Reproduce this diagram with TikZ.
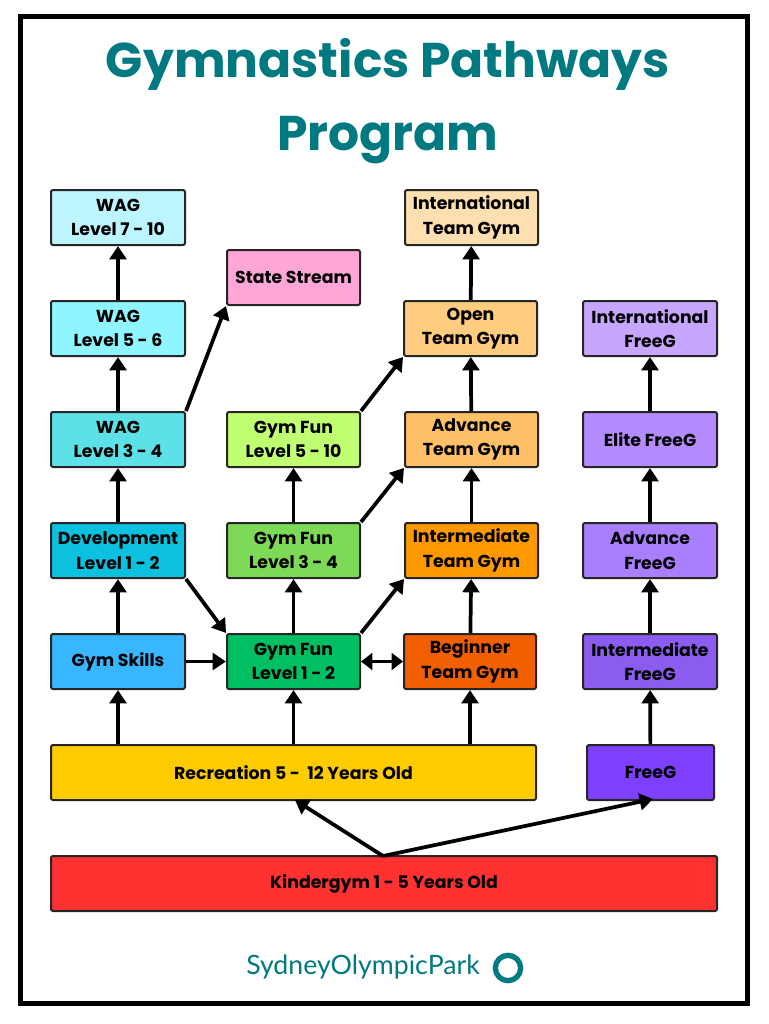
\documentclass[tikz,border=0pt]{standalone}
\usepackage{fontspec}
\setmainfont{Poppins}
\newfontfamily\logofont{Lato}
\usetikzlibrary{arrows.meta}

\definecolor{brand}{HTML}{007A80}
\definecolor{wagA}{HTML}{BDF5FF}
\definecolor{wagB}{HTML}{8FF6FF}
\definecolor{wagC}{HTML}{5CE1E6}
\definecolor{wagD}{HTML}{0CC0DF}
\definecolor{wagE}{HTML}{38B6FF}
\definecolor{funS}{HTML}{FFA6D9}
\definecolor{funA}{HTML}{C1FF72}
\definecolor{funB}{HTML}{7ED957}
\definecolor{funC}{HTML}{00BF63}
\definecolor{teamA}{HTML}{FFDFB0}
\definecolor{teamB}{HTML}{FFCC80}
\definecolor{teamC}{HTML}{FFC067}
\definecolor{teamD}{HTML}{FF9900}
\definecolor{teamE}{HTML}{F25F00}
\definecolor{freeA}{HTML}{C7A6FF}
\definecolor{freeB}{HTML}{B58CFF}
\definecolor{freeC}{HTML}{A97FFF}
\definecolor{freeD}{HTML}{8C5CF0}
\definecolor{freeE}{HTML}{7F3FFF}
\definecolor{recfill}{HTML}{FFCC00}
\definecolor{kindfill}{HTML}{FF3131}

\tikzset{
    pathbox/.style 2 args={
        draw=black!85, line width=1.5pt, rounded corners=1.5pt, align=center,
        font=\fontsize{13}{18.5}\selectfont\bfseries, text=black, inner sep=0pt,
        minimum width=#1*0.75pt, minimum height=55*0.75pt, fill=#2
    },
    link/.style={line width=2.8pt, -{Triangle[length=10pt, width=12.5pt]}},
    twolink/.style={line width=2.8pt, {Triangle[length=8.5pt, width=12.5pt]}-{Triangle[length=8.5pt, width=12.5pt]}}
}

\begin{document}
\begin{tikzpicture}[x=0.75pt, y=-0.75pt]
    \useasboundingbox (0,0) rectangle (768,1024);
    \fill[white] (0,0) rectangle (768,1024);
    \node (frame) [draw=black, line width=3.75pt, minimum width=727*0.75pt, minimum height=986*0.75pt, inner sep=0pt] at (383.5,510) {};

    \node (title) [text=brand, align=center, font=\fontsize{36.6}{55}\selectfont\bfseries] at (388,101) {Gymnastics Pathways\\Program};

    % WAG stream
    \node (wagseven) [pathbox={134}{wagA}] at (118,217.5) {WAG\\Level 7 - 10};
    \node (wagfive)  [pathbox={134}{wagB}] at (118,328.5) {WAG\\Level 5 - 6};
    \node (wagthree) [pathbox={134}{wagC}] at (118,439.5) {WAG\\Level 3 - 4};
    \node (dev)      [pathbox={134}{wagD}] at (118,550.5) {Development\\Level 1 - 2};
    \node (skills)   [pathbox={134}{wagE}] at (118,661.5) {Gym Skills};

    % gym fun
    \node (state)    [pathbox={133}{funS}] at (293.5,277.5) {State Stream};
    \node (funfive)  [pathbox={133}{funA}] at (293.5,439.5) {Gym Fun\\Level 5 - 10};
    \node (funthree) [pathbox={133}{funB}] at (293.5,550.5) {Gym Fun\\Level 3 - 4};
    \node (funone)   [pathbox={133}{funC}] at (293.5,661.5) {Gym Fun\\Level 1 - 2};

    % team gym
    \node (tgintl)   [pathbox={133}{teamA}] at (471.5,217.5) {International\\Team Gym};
    \node (tgopen)   [pathbox={133}{teamB}] at (470.5,328.5) {Open\\Team Gym};
    \node (tgadv)    [pathbox={133}{teamC}] at (471.5,439.5) {Advance\\Team Gym};
    \node (tginter)  [pathbox={133}{teamD}] at (471.5,550.5) {Intermediate\\Team Gym};
    \node (tgbegin)  [pathbox={132}{teamE}] at (470,661.5) {Beginner\\Team Gym};

    % freeg
    \node (fgintl)   [pathbox={134}{freeA}] at (650,328.5) {International\\FreeG};
    \node (fgelite)  [pathbox={134}{freeB}] at (650,439.5) {Elite FreeG};
    \node (fgadv)    [pathbox={134}{freeC}] at (650,550.5) {Advance\\FreeG};
    \node (fginter)  [pathbox={134}{freeD}] at (650,661.5) {Intermediate\\FreeG};
    \node (fgbase)   [pathbox={127}{freeE}] at (650.5,772.5) {FreeG};

    \node (rec)      [pathbox={485}{recfill}] at (293.5,772.5) {Recreation 5 -\ \ 12 Years Old};
    \node (kinder)   [pathbox={666}{kindfill}] at (384,883.5) {Kindergym 1 - 5 Years Old};

    \coordinate (kindertop) at (383,856);
    \coordinate (recdrop) at (295,800);
    \coordinate (fgdrop) at (653,799);

    \draw[link] (wagfive)  -- (wagseven);
    \draw[link] (wagthree) -- (wagfive);
    \draw[link] (dev)      -- (wagthree);
    \draw[link] (skills)   -- (dev);
    \draw[link] (wagthree.north east) -- (state.south west);

    \draw[link] (funone)   -- (funthree);
    \draw[link] (funthree) -- (funfive);
    \draw[link] (skills)   -- (funone);
    \draw[link] (dev.south east) -- (funone.north west);
    \draw[twolink] (funone) -- (tgbegin);

    \draw[link] (funone.north east)   -- (tginter.south west);
    \draw[link] (funthree.north east) -- (tgadv.south west);
    \draw[link] (funfive.north east)  -- (tgopen.south west);

    \draw[link] (tgbegin) -- (tginter);
    \draw[link] (tginter) -- (tgadv);
    \draw[link] (tgadv)   -- (tgopen);
    \draw[link] (tgopen)  -- (tgintl);

    \draw[link] (fgbase)  -- (fginter);
    \draw[link] (fginter) -- (fgadv);
    \draw[link] (fgadv)   -- (fgelite);
    \draw[link] (fgelite) -- (fgintl);

    \draw[link] (rec.north -| skills)  -- (skills);
    \draw[link] (rec.north -| funone)  -- (funone);
    \draw[link] (rec.north -| tgbegin) -- (tgbegin);

    \draw[link] (kindertop) -- (recdrop);
    \draw[link] (kindertop) -- (fgdrop);

    % logo
    \node (logo) [text=brand, font=\fontsize{20}{25}\logofont, inner sep=0pt] at (363,967) {SydneyOlympicPark};
    \node (ring) [draw=brand, line width=4pt, circle, minimum size=19pt, inner sep=0pt] at (508,968) {};
\end{tikzpicture}
\end{document}
